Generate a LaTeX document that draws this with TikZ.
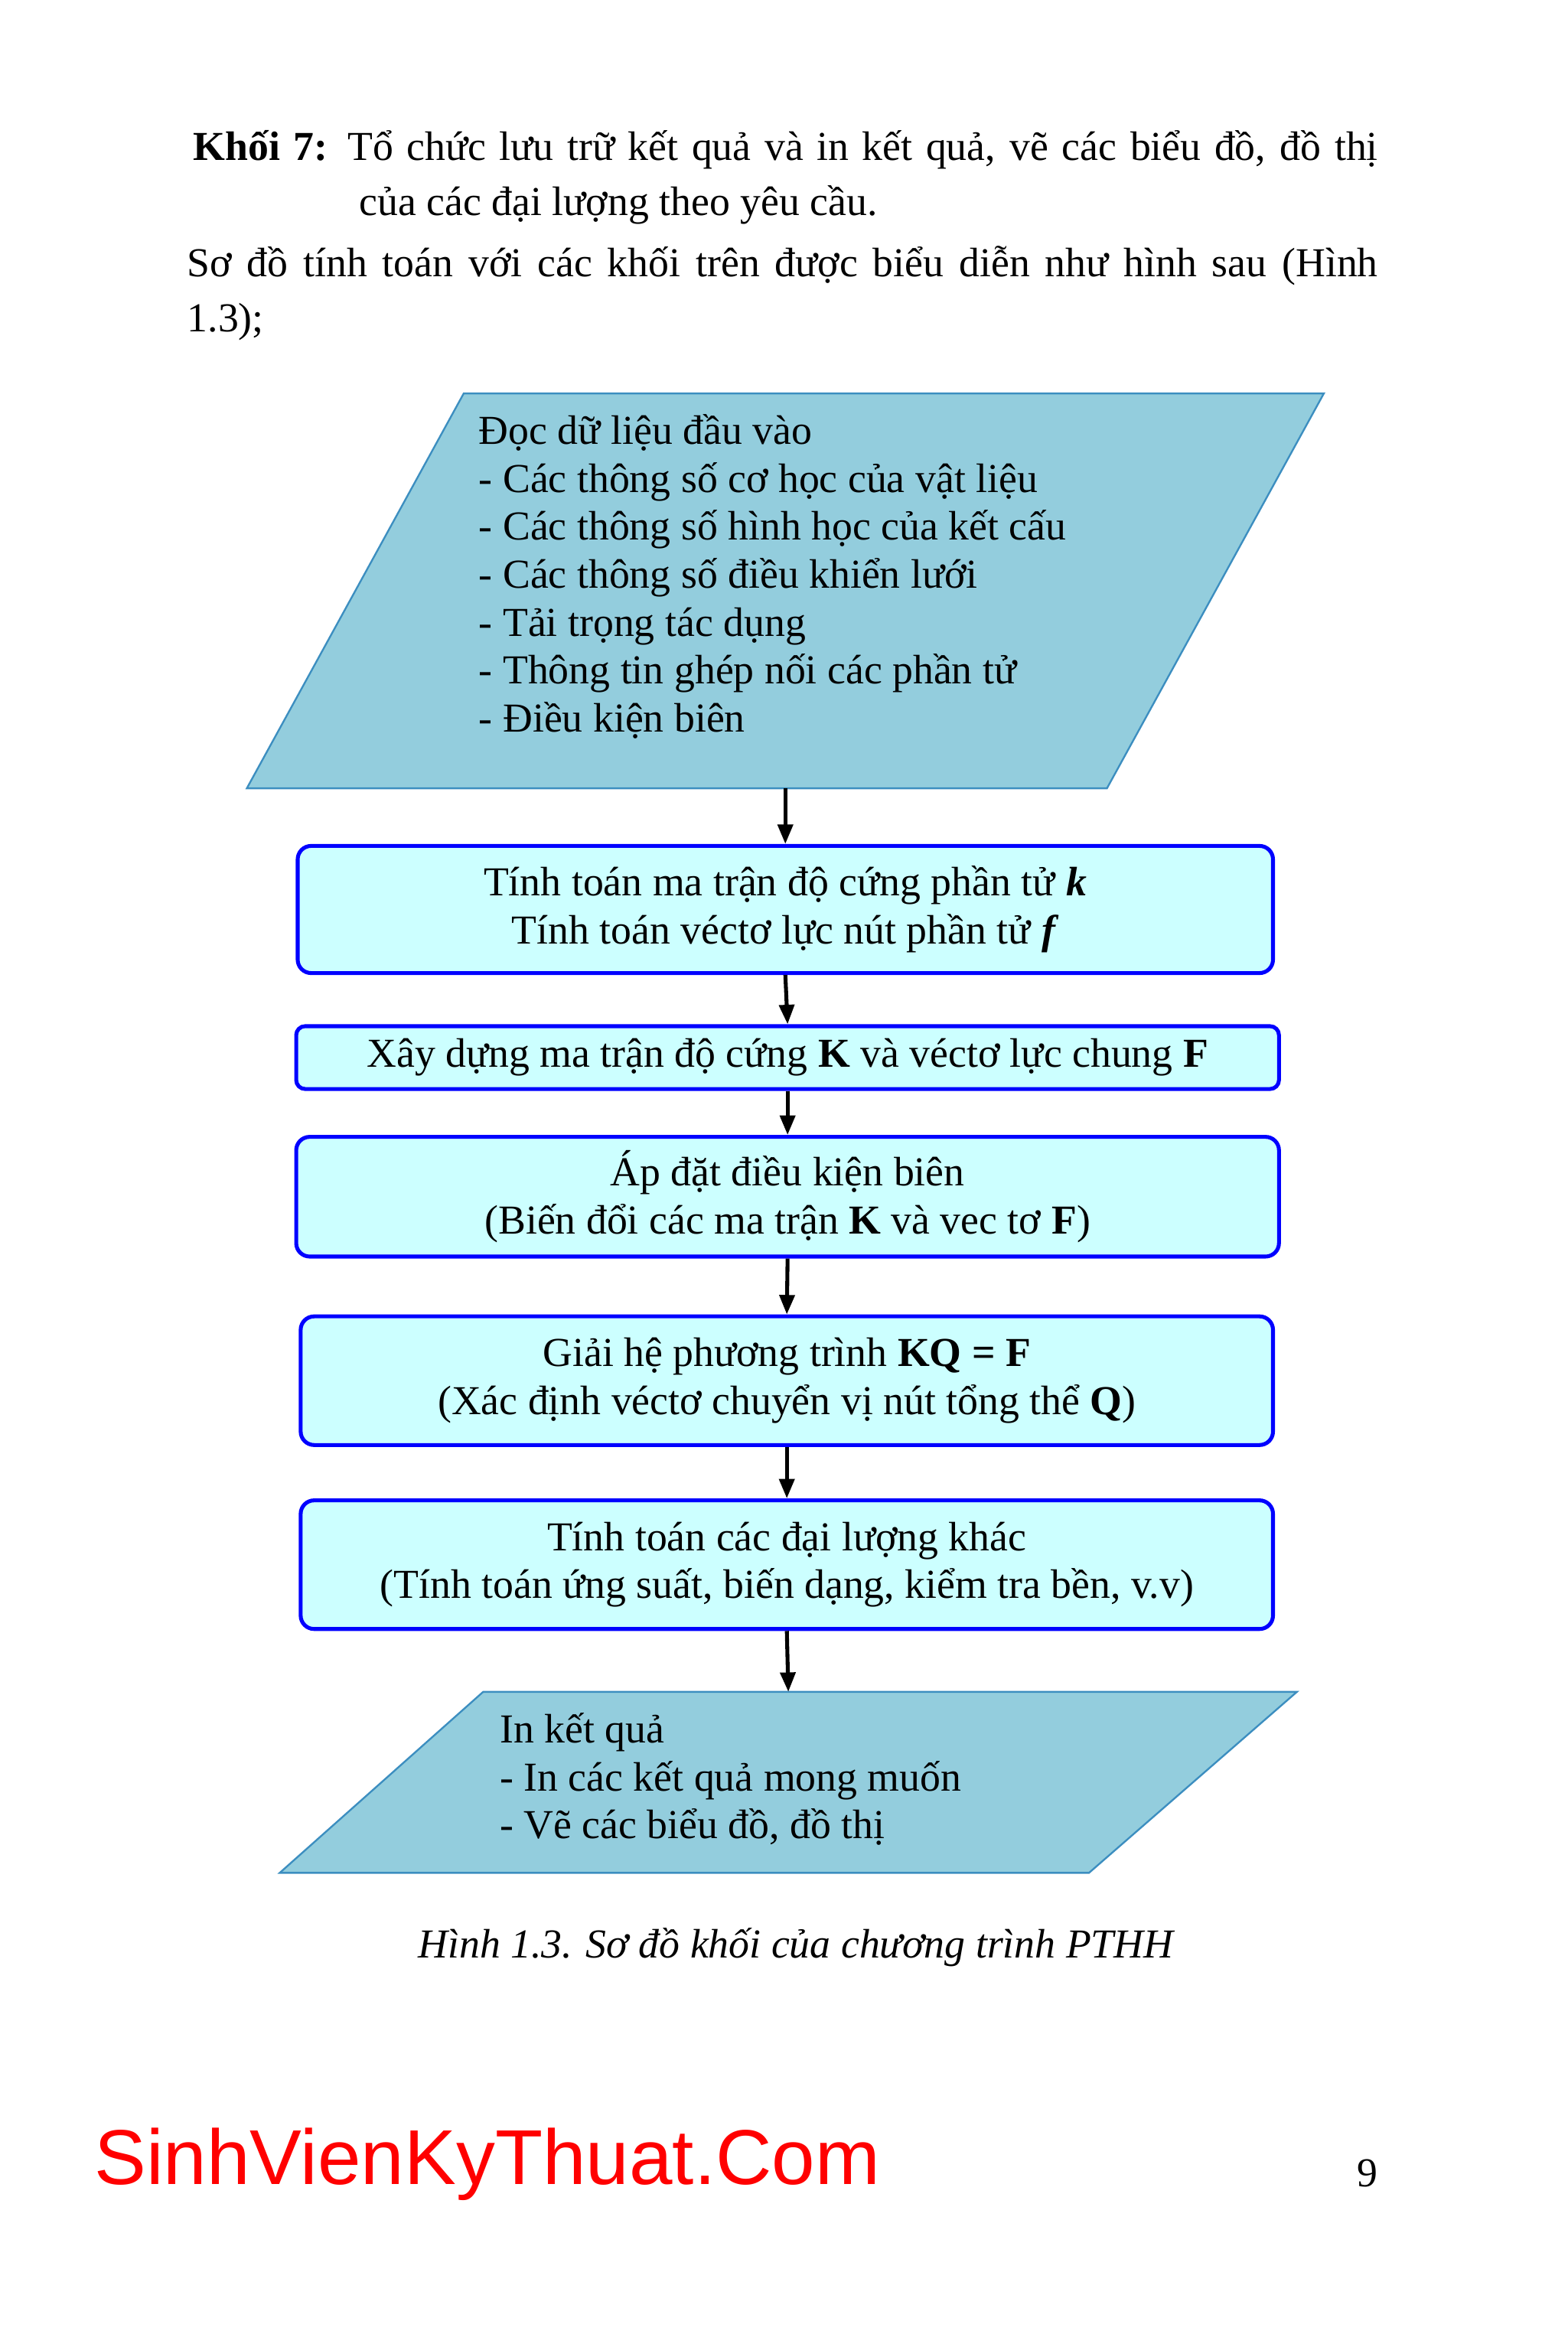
\documentclass[tikz,border=0pt]{standalone}
\usepackage{fontspec}
\setmainfont{Liberation Serif}
\newfontfamily\wm{Liberation Sans}
\usetikzlibrary{arrows.meta}
\definecolor{para}{HTML}{93CDDD}
\definecolor{parab}{HTML}{3C8EC0}
\definecolor{boxf}{HTML}{CCFFFF}
\begin{document}
\begin{tikzpicture}[x=1pt,y=-1pt,
  every node/.style={font=\fontsize{27.5}{32}\selectfont, inner sep=0pt},
  bx/.style={draw=blue, line width=2.6pt, fill=boxf, rounded corners=9pt},
  pg/.style={draw=parab, line width=1.2pt, fill=para},
  ar/.style={line width=2.6pt, -{Triangle[length=13pt,width=10pt]}}]
\useasboundingbox (0,0) rectangle (1048,1569);
\fill[white] (0,0) rectangle (1048,1569);
% paragraph
\node[anchor=base west] (p1) at (129,107)
  {\makebox[792pt][s]{\textbf{Khối 7:} Tổ chức lưu trữ kết quả và in kết quả, vẽ các biểu đồ, đồ thị}};
\node[anchor=base west] (p1b) at (240,144) {của các đại lượng theo yêu cầu.};
\node[anchor=base west] (p2) at (125,185)
  {\makebox[796pt][s]{Sơ đồ tính toán với các khối trên được biểu diễn như hình sau (Hình}};
\node[anchor=base west] (p2b) at (125,222) {1.3);};
% input parallelogram
\draw[pg] (310,263) -- (885,263) -- (740,527) -- (165,527) -- cycle;
\coordinate (in) at (525,527);
\node[anchor=north west, align=left] (t1) at (320,277)
  {Đọc dữ liệu đầu vào\\- Các thông số cơ học của vật liệu\\- Các thông số hình học của kết cấu\\- Các thông số điều khiển lưới\\- Tải trọng tác dụng\\- Thông tin ghép nối các phần tử\\- Điều kiện biên};
% boxes
\node[bx, minimum width=652pt, minimum height=85pt, align=center] (b2) at (525,608)
  {Tính toán ma trận độ cứng phần tử \textbf{\textit{k}}\\Tính toán véctơ lực nút phần tử \textbf{\textit{f}}};
\node[bx, minimum width=657pt, minimum height=42pt, rounded corners=6pt] (b3) at (526.5,707)
  {Xây dựng ma trận độ cứng \textbf{K} và véctơ lực chung \textbf{F}};
\node[bx, minimum width=657pt, minimum height=80pt, align=center] (b4) at (526.5,800)
  {Áp đặt điều kiện biên\\(Biến đổi các ma trận \textbf{K} và vec tơ \textbf{F})};
\node[bx, minimum width=650pt, minimum height=86pt, align=center] (b5) at (526,923)
  {Giải hệ phương trình \textbf{KQ = F}\\(Xác định véctơ chuyển vị nút tổng thể \textbf{Q})};
\node[bx, minimum width=650pt, minimum height=86pt, align=center] (b6) at (526,1046)
  {Tính toán các đại lượng khác\\(Tính toán ứng suất, biến dạng, kiểm tra bền, v.v)};
% output parallelogram
\draw[pg] (323,1131) -- (867,1131) -- (728,1252) -- (187,1252) -- cycle;
\coordinate (out) at (527,1131);
\node[anchor=north west, align=left] (t7) at (334,1145)
  {In kết quả\\- In các kết quả mong muốn\\- Vẽ các biểu đồ, đồ thị};
% arrows
\draw[ar] (in) -- (b2.north);
\draw[ar] (b2.south) -- (b3.north);
\draw[ar] (b3.south) -- (b4.north);
\draw[ar] (b4.south) -- (b5.north);
\draw[ar] (b5.south) -- (b6.north);
\draw[ar] (b6.south) -- (out);
% caption
\node[font=\fontsize{27.5}{30}\selectfont\itshape] (cap) at (532,1302) {Hình 1.3. Sơ đồ khối của chương trình PTHH};
\node[anchor=west, font=\fontsize{52}{56}\wm, text=red] (wm) at (63,1447) {SinhVienKyThuat.Com};
\node[anchor=east] (pn) at (921,1453) {9};
\end{tikzpicture}
\end{document}
